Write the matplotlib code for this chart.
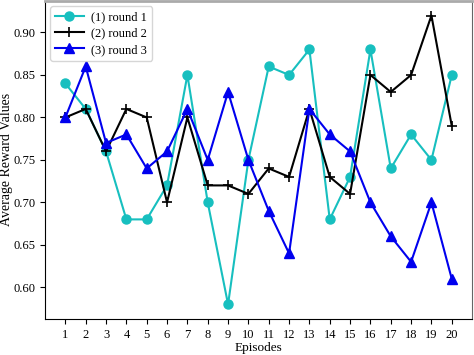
import numpy as np
import matplotlib
matplotlib.use("Agg")
from matplotlib import pyplot as plt

plt.rcParams['font.family'] = ['Liberation Serif', 'DejaVu Serif']

episodes = np.arange(1, 21)
round1 = [0.84, 0.81, 0.76, 0.68, 0.68, 0.72, 0.85, 0.70, 0.58, 0.75,
          0.86, 0.85, 0.88, 0.68, 0.73, 0.88, 0.74, 0.78, 0.75, 0.85]
round2 = [0.80, 0.81, 0.76, 0.81, 0.80, 0.70, 0.80, 0.72, 0.72, 0.71,
          0.74, 0.73, 0.81, 0.73, 0.71, 0.85, 0.83, 0.85, 0.92, 0.79]
round3 = [0.80, 0.86, 0.77, 0.78, 0.74, 0.76, 0.81, 0.75, 0.83, 0.75,
          0.69, 0.64, 0.81, 0.78, 0.76, 0.70, 0.66, 0.63, 0.70, 0.61]
labels = ["(1) round 1", "(2) round 2", "(3) round 3"]

fig = plt.figure(figsize=(4.74, 3.55), dpi=100)
ax = fig.add_axes([0.095, 0.102, 0.901, 0.895])

ax.plot(episodes, round1, color="#17BFBF", marker="o", markersize=6.5,
        linewidth=1.5, label=labels[0])
ax.plot(episodes, round2, color="black", marker="+", markersize=7.5,
        markeredgewidth=1.2, linewidth=1.5, label=labels[1])
ax.plot(episodes, round3, color="#0000EE", marker="^", markersize=6.5,
        linewidth=1.5, label=labels[2])

ax.set_xlim(0, 21)
ax.set_ylim(0.563, 0.937)
ax.set_xticks(episodes)
ax.set_yticks([0.60, 0.65, 0.70, 0.75, 0.80, 0.85, 0.90])
ax.set_yticklabels(["0.60", "0.65", "0.70", "0.75", "0.80", "0.85", "0.90"])
ax.tick_params(labelsize=9)
ax.set_xlabel("Episodes", fontsize=9.5, labelpad=1)
ax.set_ylabel("Average Reward Values", fontsize=10)
ax.yaxis.set_label_coords(-0.0745, 0.5)
ax.spines['top'].set_color("#aaaaaa")
ax.spines['top'].set_linewidth(2)
ax.spines['right'].set_color("#666666")

ax.legend(loc="upper left", fontsize=9, handlelength=2.3,
          handletextpad=0.6, borderaxespad=0.4, labelspacing=0.35)

fig.savefig("out.png", dpi=100)
